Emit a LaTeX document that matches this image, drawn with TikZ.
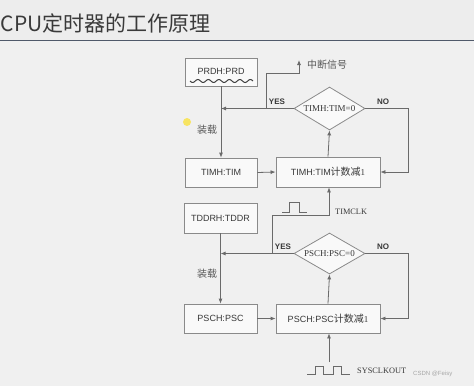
\documentclass[tikz,border=0pt]{standalone}
\usepackage{fontspec}
\setmainfont{Liberation Sans}
\newfontfamily\cjk{Noto Sans CJK SC}
\newfontfamily\ser{Liberation Serif}
\usetikzlibrary{shapes.geometric,arrows.meta}
\definecolor{bg}{HTML}{F0F0F0}
\definecolor{txt}{HTML}{383838}
\definecolor{ln}{HTML}{6A6A6A}
\definecolor{bx}{HTML}{8A8A8A}
\tikzset{
  box/.style={draw=bx,line width=0.8pt,fill=white!60!bg,rectangle,inner sep=0pt,text=txt,font=\fontsize{9}{10}\selectfont},
  dia/.style={draw=bx,line width=0.8pt,fill=white!60!bg,diamond,aspect=1.65,inner sep=0pt,minimum width=71pt,minimum height=43pt,text=txt,font=\ser\fontsize{9}{10}\selectfont},
  arr/.style={draw=ln,line width=0.8pt,-{Latex[length=5pt,width=4pt]}},
  con/.style={draw=ln,line width=0.8pt},
  lab/.style={text=txt,font=\fontsize{8}{9}\selectfont\bfseries,inner sep=0pt},
  cjklab/.style={text=txt!85!white,font=\cjk\fontsize{10}{11}\selectfont,inner sep=0pt},
  serlab/.style={text=txt,font=\ser\fontsize{8.3}{9}\selectfont,inner sep=0pt},
  pulse/.style={draw=ln,line width=0.8pt}
}
\begin{document}
\begin{tikzpicture}[x=1pt,y=-1pt]
\useasboundingbox (0,0) rectangle (474,386);
\fill[bg] (0,0) rectangle (474,386);
\fill[black!7] (0,0) rectangle (474,40);
\draw[color={rgb,255:red,80;green,89;blue,106},line width=1.2pt] (0,40.5) -- (474,40.5);
\node[anchor=west,inner sep=0pt,text={rgb,255:red,58;green,58;blue,58},font=\cjk\fontsize{21}{23}\selectfont] (title) at (0.5,23) {CPU定时器的工作原理};

% boxes
\node[box,minimum width=72pt,minimum height=28pt] (prd) at (221,72) {\raisebox{2pt}{PRDH:PRD}};
\draw[line width=1pt,color=black!75] plot[domain=190:253,samples=90] (\x,{81+1.5*sin((\x-190)*34.2857)});
\node[box,minimum width=72pt,minimum height=29pt] (tim) at (221,172.5) {TIMH:TIM};
\node[box,minimum width=104pt,minimum height=30pt] (timdec) at (328,172) {TIMH:TIM{\cjk\fontsize{10}{10}\selectfont 计数减}{\ser 1}};
\node[dia] (dtim) at (329.5,108.5) {TIMH:TIM=0};
\node[box,minimum width=73pt,minimum height=30pt] (tdr) at (220.5,218) {TDDRH:TDDR};
\node[box,minimum width=73pt,minimum height=29pt] (psc) at (220.5,318.5) {PSCH:PSC};
\node[box,minimum width=104pt,minimum height=29pt] (pscdec) at (328,318.5) {PSCH:PSC{\cjk\fontsize{10}{10}\selectfont 计数减}{\ser 1}};
\node[dia,minimum height=41pt] (dpsc) at (329.5,253.5) {PSCH:PSC=0};

% coordinates
\coordinate (yesA) at (266,108.5);
\coordinate (intA) at (299,73);
\coordinate (intB) at (299,60);
\coordinate (yesB) at (272,253.5);
\coordinate (clkA) at (329,215);
\coordinate (sysA) at (329,362);

% connectors TIM part
\draw[arr] (prd.south) -- (tim.north);
\draw[arr] (dtim.west) -- (dtim.west -| prd.south);
\draw[arr] (yesA) |- (intA) -- (intB);
\draw[arr] (dtim.east) -- ++(43,0) |- (timdec.east);
\draw[arr] (tim.east) -- (timdec.west);
\draw[arr] (timdec.north) -- (dtim.south);
\draw[arr] (yesB) |- (clkA) -- (clkA |- timdec.south);

% connectors PSC part
\draw[arr] (tdr.south) -- (psc.north);
\draw[arr] (dpsc.west) -- (dpsc.west -| tdr.south);
\draw[arr] (dpsc.east) -- ++(43,0) |- (pscdec.east);
\draw[arr] (psc.east) -- (pscdec.west);
\draw[arr] (pscdec.north) -- (dpsc.south);
\draw[arr] (sysA) -- (sysA |- pscdec.south);

% pulses
\draw[pulse] (282,212) -- (289,212) -- (289,202) -- (299,202) -- (299,212) -- (307,212);
\draw[pulse] (307,374) -- (315,374) -- (315,366) -- (323,366) -- (323,374) -- (333,374) -- (333,366) -- (341,366) -- (341,374) -- (350,374);

% labels
\node[lab] (yes1) at (277,101.5) {YES};
\node[lab] (no1) at (383,101.5) {NO};
\node[lab] (yes2) at (283,246.5) {YES};
\node[lab] (no2) at (383,246.5) {NO};
\node[cjklab] (zz1) at (207,130) {装载};
\node[cjklab] (zz2) at (207,274) {装载};
\node[cjklab,anchor=west] (irq) at (307,65) {中断信号};
\node[serlab,anchor=west] (clk) at (335,212) {TIMCLK};
\node[serlab,anchor=west] (sys) at (357,371) {SYSCLKOUT};
\node[inner sep=0pt,anchor=west,text=black!35,font=\fontsize{6}{7}\selectfont] (wm) at (413,373.5) {CSDN @Feisy};
\fill[yellow!80!orange,opacity=0.6] (187,122) circle (4);
\end{tikzpicture}
\end{document}
